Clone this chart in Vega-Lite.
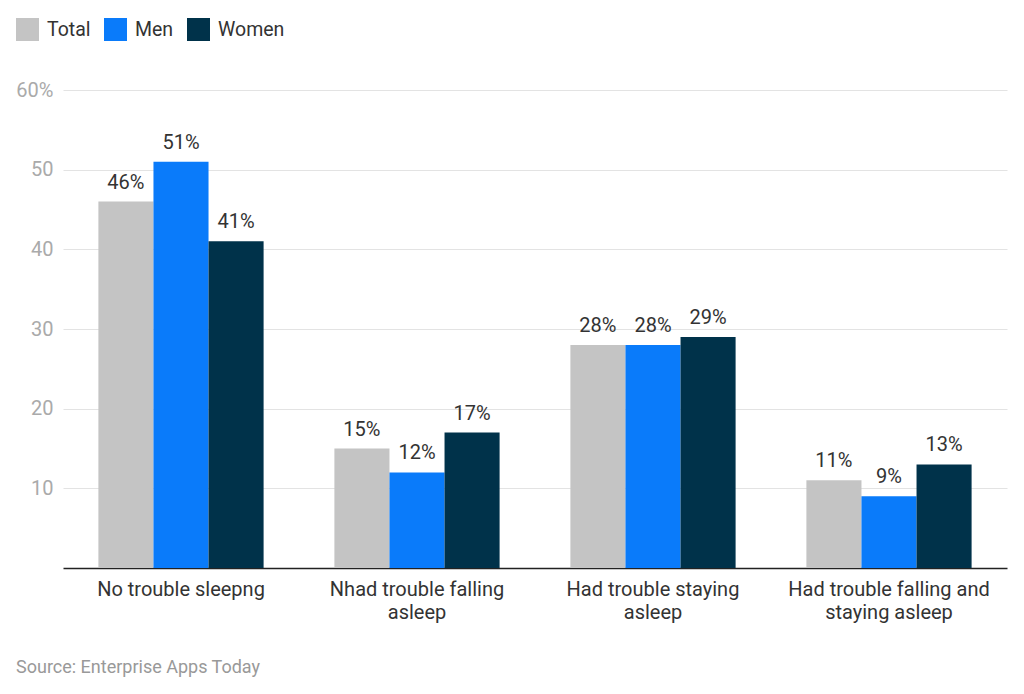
{
  "$schema": "https://vega.github.io/schema/vega-lite/v6.json",
  "width": 944,
  "height": 478,
  "autosize": {"type": "none"},
  "padding": {"left": 63, "top": 90, "right": 17, "bottom": 126},
  "background": "white",
  "config": {
    "font": "Roboto",
    "view": {"stroke": null}
  },
  "title": {
    "text": "Source: Enterprise Apps Today",
    "orient": "bottom",
    "anchor": "start",
    "frame": "group",
    "dx": -47,
    "offset": 37,
    "fontSize": 18,
    "fontWeight": "normal",
    "color": "#999999"
  },
  "data": {
    "values": [
      {"cat": "No trouble sleepng", "group": "Total", "value": 46},
      {"cat": "No trouble sleepng", "group": "Men", "value": 51},
      {"cat": "No trouble sleepng", "group": "Women", "value": 41},
      {"cat": "Nhad trouble falling|asleep", "group": "Total", "value": 15},
      {"cat": "Nhad trouble falling|asleep", "group": "Men", "value": 12},
      {"cat": "Nhad trouble falling|asleep", "group": "Women", "value": 17},
      {"cat": "Had trouble staying|asleep", "group": "Total", "value": 28},
      {"cat": "Had trouble staying|asleep", "group": "Men", "value": 28},
      {"cat": "Had trouble staying|asleep", "group": "Women", "value": 29},
      {"cat": "Had trouble falling and|staying asleep", "group": "Total", "value": 11},
      {"cat": "Had trouble falling and|staying asleep", "group": "Men", "value": 9},
      {"cat": "Had trouble falling and|staying asleep", "group": "Women", "value": 13}
    ]
  },
  "encoding": {
    "x": {
      "field": "cat",
      "type": "nominal",
      "sort": null,
      "scale": {"paddingInner": 0.3, "paddingOuter": 0.15},
      "axis": {
        "title": null,
        "labelAngle": 0,
        "labelExpr": "split(datum.value, '|')",
        "labelFontSize": 20,
        "labelColor": "#333333",
        "labelPadding": 11,
        "labelLineHeight": 23,
        "labelLimit": 0,
        "ticks": false,
        "domainColor": "#222222",
        "domainWidth": 1.5
      }
    },
    "xOffset": {
      "field": "group",
      "type": "nominal",
      "sort": ["Total", "Men", "Women"],
      "scale": {"paddingInner": 0, "paddingOuter": 0}
    },
    "y": {
      "field": "value",
      "type": "quantitative",
      "scale": {"domain": [0, 60]},
      "axis": {
        "title": null,
        "values": [10, 20, 30, 40, 50, 60],
        "labelExpr": "datum.value == 60 ? '60%' : datum.label",
        "labelFontSize": 20,
        "labelColor": "#aaaaaa",
        "labelPadding": 10,
        "ticks": false,
        "domain": false,
        "gridColor": "#e3e3e3",
        "gridWidth": 1
      }
    }
  },
  "layer": [
    {
      "mark": {"type": "bar"},
      "encoding": {
        "color": {
          "field": "group",
          "type": "nominal",
          "sort": ["Total", "Men", "Women"],
          "scale": {
            "domain": ["Total", "Men", "Women"],
            "range": ["#c4c4c4", "#0a7bfa", "#00324a"]
          },
          "legend": {
            "title": null,
            "orient": "none",
            "legendX": -47,
            "legendY": -72,
            "direction": "horizontal",
            "symbolType": "square",
            "symbolSize": 529,
            "symbolStrokeWidth": 0,
            "symbolOpacity": 1,
            "labelFontSize": 19.5,
            "labelColor": "#333333",
            "labelOffset": 8,
            "columnPadding": 13
          }
        }
      }
    },
    {
      "transform": [{"calculate": "datum.value + '%'", "as": "lbl"}],
      "mark": {"type": "text", "baseline": "alphabetic", "dy": -13, "fontSize": 20, "color": "#333333"},
      "encoding": {
        "text": {"field": "lbl", "type": "nominal"},
        "detail": {"field": "group"}
      }
    }
  ]
}
